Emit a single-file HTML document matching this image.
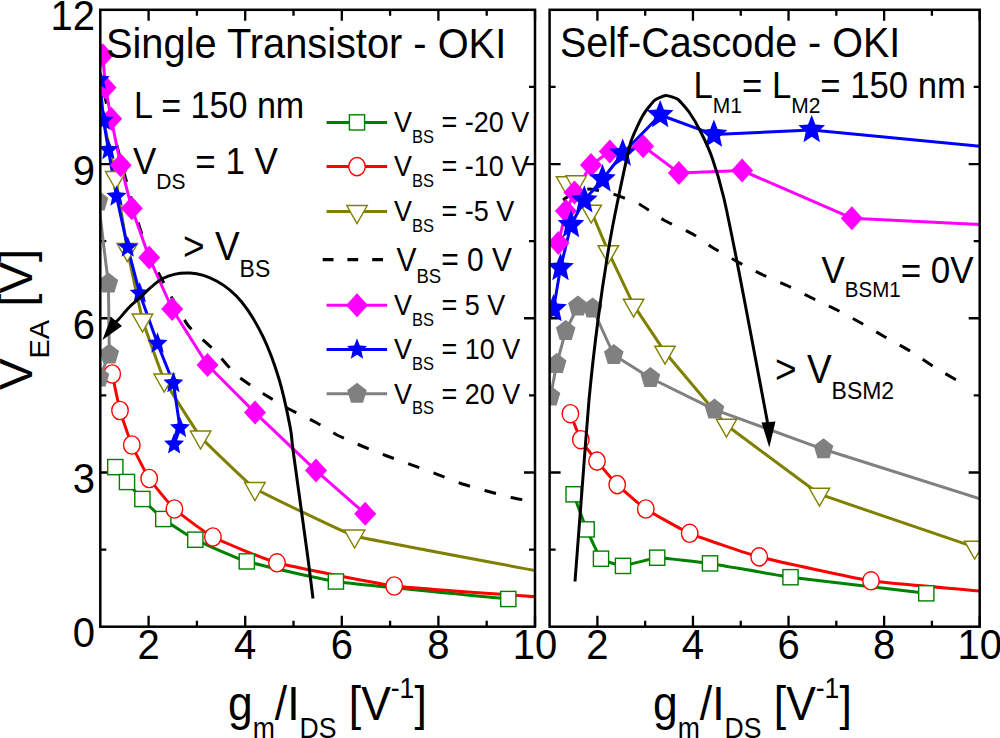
<!DOCTYPE html><html><head><meta charset="utf-8"><style>html,body{margin:0;padding:0;background:#fff;width:1000px;height:738px;overflow:hidden}svg{display:block}</style></head><body><svg width="1000" height="738" viewBox="0 0 1000 738" font-family='"Liberation Sans", sans-serif'>
<rect width="1000" height="738" fill="#fff"/>
<defs><clipPath id="cl"><rect x="100.3" y="9.8" width="434.7" height="616.9"/></clipPath><clipPath id="cr"><rect x="549.6" y="9.8" width="430.1" height="616.9"/></clipPath></defs>
<path d="M148.6,626.7v-11M148.6,9.8v11M196.9,626.7v-6M196.9,9.8v6M245.2,626.7v-11M245.2,9.8v11M293.5,626.7v-6M293.5,9.8v6M341.8,626.7v-11M341.8,9.8v11M390.1,626.7v-6M390.1,9.8v6M438.4,626.7v-11M438.4,9.8v11M486.7,626.7v-6M486.7,9.8v6M535,626.7v-11M535,9.8v11M100.3,549.59h6M535.0,549.59h-6M100.3,472.48h11M535.0,472.48h-11M100.3,395.36h6M535.0,395.36h-6M100.3,318.25h11M535.0,318.25h-11M100.3,241.14h6M535.0,241.14h-6M100.3,164.03h11M535.0,164.03h-11M100.3,86.91h6M535.0,86.91h-6" stroke="#000" stroke-width="2.3" fill="none"/>
<path d="M597.39,626.7v-11M597.39,9.8v11M645.18,626.7v-6M645.18,9.8v6M692.97,626.7v-11M692.97,9.8v11M740.76,626.7v-6M740.76,9.8v6M788.54,626.7v-11M788.54,9.8v11M836.33,626.7v-6M836.33,9.8v6M884.12,626.7v-11M884.12,9.8v11M931.91,626.7v-6M931.91,9.8v6M979.7,626.7v-11M979.7,9.8v11M549.6,549.59h6M979.7,549.59h-6M549.6,472.48h11M979.7,472.48h-11M549.6,395.36h6M979.7,395.36h-6M549.6,318.25h11M979.7,318.25h-11M549.6,241.14h6M979.7,241.14h-6M549.6,164.03h11M979.7,164.03h-11M549.6,86.91h6M979.7,86.91h-6" stroke="#000" stroke-width="2.3" fill="none"/>
<g clip-path="url(#cl)">
<path d="M115.3,467.1 C116.08,468.09 125.19,479.87 127,482 C128.81,484.13 139.98,496.53 142.4,499 C144.82,501.47 159.77,516.29 163.3,519 C166.83,521.71 189.73,536.87 195.3,539.7 C200.87,542.53 237.43,558.61 246.8,561.4 C256.17,564.19 318.47,578.99 335.9,581.5 C353.33,584.01 496.81,597.83 508.3,599" fill="none" stroke="#008000" stroke-width="3" stroke-linejoin="round"/>
<path d="M112.2,374 C112.72,376.43 118.69,405.77 120,410.5 C121.31,415.23 129.85,440.47 131.8,445 C133.75,449.53 146.36,474.23 149.2,478.5 C152.04,482.77 170.15,505.1 174.4,509 C178.65,512.9 206.06,533.41 212.9,537 C219.74,540.59 264.91,559.53 277,562.8 C289.09,566.07 376.93,583.74 394.2,586 C411.47,588.26 526.55,595.99 536,596.7" fill="none" stroke="#ff0000" stroke-width="3" stroke-linejoin="round"/>
<path d="M103,118 C103.42,119.98 114.89,173.12 115.7,177.5 C116.51,181.88 126.41,244.75 127.3,249.5 C128.19,254.25 141.27,315.65 142.5,320 C143.73,324.35 162.26,376.1 164.2,380 C166.14,383.9 197.58,433.38 200.6,437 C203.62,440.62 249.77,485.2 254.9,488.5 C260.03,491.8 345.23,533.26 354.6,536 C363.97,538.74 529.95,569.54 536,570.7" fill="none" stroke="#808000" stroke-width="3" stroke-linejoin="round"/>
<path d="M104,92 C104.5,94.33 108.92,115.5 110,120 C111.08,124.5 115.67,141 117,146 C118.33,151 124.31,173.83 126,180 C127.69,186.17 135.63,214.5 137.3,220 C138.97,225.5 144.28,241.67 146,246 C147.72,250.33 155.83,267.67 158,272 C160.17,276.33 169.46,293.5 172,298 C174.54,302.5 184.96,321.62 188.5,326 C192.04,330.38 210.54,346.44 214.5,350.5 C218.46,354.56 231.96,371.11 236,374.7 C240.04,378.29 258.5,390.7 263,393.6 C267.5,396.5 285.58,407.09 290,409.5 C294.42,411.91 312,420.33 316,422.5 C320,424.67 334.08,433.5 338,435.5 C341.92,437.5 358.92,444.79 363,446.5 C367.08,448.21 382.96,454.48 387,456 C391.04,457.52 407.42,463.32 411.5,464.8 C415.58,466.28 431.88,472.24 436,473.8 C440.12,475.36 456.92,482.11 461,483.5 C465.08,484.89 480.83,489.33 485,490.5 C489.17,491.67 506.75,496.54 511,497.5 C515.25,498.46 533.92,501.62 536,502" fill="none" stroke="#000" stroke-width="3" stroke-linejoin="round" stroke-dasharray="12,15"/>
<path d="M98.5,201.5 L104,248 L108.4,283.5 L109.3,354.5 L99.5,377.5" fill="none" stroke="#808080" stroke-width="3" stroke-linejoin="round"/>
<path d="M102.7,55.2 L105.5,87.4 L111.2,118.7 L120.7,165.2 L131.8,208.3 L149.2,257.6 L172.2,309 L207.5,365 L255,412.6 L316,470.6 L365.2,513.8" fill="none" stroke="#ff00ff" stroke-width="3" stroke-linejoin="round"/>
<path d="M99.8,79.8 L103.6,120.6 L108.4,150 L116.5,196.5 L127.7,247.5 L139.7,293.4 L157.5,343.6 L173.4,383.2 L180,428 L174.1,444.3" fill="none" stroke="#0000ff" stroke-width="3" stroke-linejoin="round"/>
<g fill="#fff" stroke="#008000" stroke-width="1.4"><rect x="107.7" y="459.5" width="15.2" height="15.2"/><rect x="119.4" y="474.4" width="15.2" height="15.2"/><rect x="134.8" y="491.4" width="15.2" height="15.2"/><rect x="155.7" y="511.4" width="15.2" height="15.2"/><rect x="187.7" y="532.1" width="15.2" height="15.2"/><rect x="239.2" y="553.8" width="15.2" height="15.2"/><rect x="328.3" y="573.9" width="15.2" height="15.2"/><rect x="500.7" y="591.4" width="15.2" height="15.2"/></g>
<g fill="#fff" stroke="#ff0000" stroke-width="1.4"><ellipse cx="112.2" cy="374" rx="8.25" ry="9.08"/><ellipse cx="120" cy="410.5" rx="8.25" ry="9.08"/><ellipse cx="131.8" cy="445" rx="8.25" ry="9.08"/><ellipse cx="149.2" cy="478.5" rx="8.25" ry="9.08"/><ellipse cx="174.4" cy="509" rx="8.25" ry="9.08"/><ellipse cx="212.9" cy="537" rx="8.25" ry="9.08"/><ellipse cx="277" cy="562.8" rx="8.25" ry="9.08"/><ellipse cx="394.2" cy="586" rx="8.25" ry="9.08"/></g>
<g fill="#fff" stroke="#808000" stroke-width="1.4"><polygon points="105.45,171.5 125.95,171.5 115.7,189.5"/><polygon points="117.05,243.5 137.55,243.5 127.3,261.5"/><polygon points="132.25,314 152.75,314 142.5,332"/><polygon points="153.95,374 174.45,374 164.2,392"/><polygon points="190.35,431 210.85,431 200.6,449"/><polygon points="244.65,482.5 265.15,482.5 254.9,500.5"/><polygon points="344.35,530 364.85,530 354.6,548"/></g>
<g fill="#808080"><polygon points="98.5,190.38 108.3,198.06 104.55,210.5 92.45,210.5 88.7,198.06"/><polygon points="108.4,272.38 118.2,280.06 114.45,292.5 102.35,292.5 98.6,280.06"/><polygon points="109.3,343.38 119.1,351.06 115.35,363.5 103.25,363.5 99.5,351.06"/><polygon points="99.5,366.38 109.3,374.06 105.55,386.5 93.45,386.5 89.7,374.06"/></g>
<g fill="#ff00ff"><polygon points="102.7,43.21 113.7,55.2 102.7,67.19 91.7,55.2"/><polygon points="105.5,75.41 116.5,87.4 105.5,99.39 94.5,87.4"/><polygon points="111.2,106.71 122.2,118.7 111.2,130.69 100.2,118.7"/><polygon points="120.7,153.21 131.7,165.2 120.7,177.19 109.7,165.2"/><polygon points="131.8,196.31 142.8,208.3 131.8,220.29 120.8,208.3"/><polygon points="149.2,245.61 160.2,257.6 149.2,269.59 138.2,257.6"/><polygon points="172.2,297.01 183.2,309 172.2,320.99 161.2,309"/><polygon points="207.5,353.01 218.5,365 207.5,376.99 196.5,365"/><polygon points="255,400.61 266,412.6 255,424.59 244,412.6"/><polygon points="316,458.61 327,470.6 316,482.59 305,470.6"/><polygon points="365.2,501.81 376.2,513.8 365.2,525.79 354.2,513.8"/></g>
<g fill="#0000ff"><polygon points="99.8,68.46 102.58,75.67 109.79,76.3 104.29,81.38 105.97,88.97 99.8,84.9 93.63,88.97 95.31,81.38 89.81,76.3 97.02,75.67"/><polygon points="103.6,109.26 106.38,116.47 113.59,117.1 108.09,122.18 109.77,129.77 103.6,125.7 97.43,129.77 99.11,122.18 93.61,117.1 100.82,116.47"/><polygon points="108.4,138.66 111.18,145.87 118.39,146.5 112.89,151.58 114.57,159.17 108.4,155.1 102.23,159.17 103.91,151.58 98.41,146.5 105.62,145.87"/><polygon points="116.5,185.16 119.28,192.37 126.49,193 120.99,198.08 122.67,205.67 116.5,201.6 110.33,205.67 112.01,198.08 106.51,193 113.72,192.37"/><polygon points="127.7,236.16 130.48,243.37 137.69,244 132.19,249.08 133.87,256.67 127.7,252.6 121.53,256.67 123.21,249.08 117.71,244 124.92,243.37"/><polygon points="139.7,282.06 142.48,289.27 149.69,289.9 144.19,294.98 145.87,302.57 139.7,298.5 133.53,302.57 135.21,294.98 129.71,289.9 136.92,289.27"/><polygon points="157.5,332.26 160.28,339.47 167.49,340.1 161.99,345.18 163.67,352.77 157.5,348.7 151.33,352.77 153.01,345.18 147.51,340.1 154.72,339.47"/><polygon points="173.4,371.86 176.18,379.07 183.39,379.7 177.89,384.78 179.57,392.37 173.4,388.3 167.23,392.37 168.91,384.78 163.41,379.7 170.62,379.07"/><polygon points="180,416.66 182.78,423.87 189.99,424.5 184.49,429.58 186.17,437.17 180,433.1 173.83,437.17 175.51,429.58 170.01,424.5 177.22,423.87"/><polygon points="174.1,432.96 176.88,440.17 184.09,440.8 178.59,445.88 180.27,453.47 174.1,449.4 167.93,453.47 169.61,445.88 164.11,440.8 171.32,440.17"/></g>
<path d="M112,325 C113,324.17 115.25,322.83 118,320 C120.75,317.17 125.28,311.33 128.5,308 C131.72,304.67 131.6,304.92 137.3,300 C143,295.08 153.93,283 162.7,278.5 C171.47,274 180.85,272.55 189.9,273 C198.95,273.45 208.43,276.45 217,281.2 C225.57,285.95 233.63,292.25 241.3,301.5 C248.97,310.75 256.67,323.62 263,336.7 C269.33,349.78 274.8,365.08 279.3,380 C283.8,394.92 287.72,414.53 290,426.2 C292.28,437.87 291.17,436.42 293,450 C294.83,463.58 298.55,489.95 301,507.7 C303.45,525.45 305.7,541.37 307.7,556.5 C309.7,571.63 312.12,591.5 313,598.5" fill="none" stroke="#000" stroke-width="3"/>
<polygon points="102.4,340 111.2,317 122,326" fill="#000"/>
</g>
<g clip-path="url(#cr)">
<path d="M573.6,494.3 C574.25,496.06 585.23,526.18 586.6,529.4 C587.97,532.62 599.18,556.88 601,558.7 C602.82,560.53 620.19,565.95 623,565.9 C625.81,565.85 652.85,557.83 657.2,557.7 C661.55,557.58 703.34,562.42 710,563.4 C716.66,564.38 779.69,575.71 790.5,577.2 C801.31,578.7 919.51,592.5 926.3,593.3" fill="none" stroke="#008000" stroke-width="3" stroke-linejoin="round"/>
<path d="M570.4,413.7 C571.09,415.43 579.03,436.54 580.8,439.7 C582.57,442.86 594.57,458.11 597,461.1 C599.43,464.09 613.95,481.41 617.2,484.6 C620.45,487.79 640.97,505.75 645.8,509 C650.63,512.25 682.14,530.11 689.7,533.3 C697.26,536.49 747.11,553.73 759.2,556.9 C771.29,560.07 856.28,578.53 871,580.8 C885.72,583.07 972.73,590.32 980,591" fill="none" stroke="#ff0000" stroke-width="3" stroke-linejoin="round"/>
<path d="M566.6,182.8 L576.2,181.8 L591.2,211.2 L608.3,251.7 L633.6,305.2 L665,352.2 L726.5,425.2 L819.5,494.2 L974.7,547.2 L980,547" fill="none" stroke="#808000" stroke-width="3" stroke-linejoin="round"/>
<path d="M563,200 C564,199.33 572.75,192.92 575,192 C577.25,191.08 586.83,188.83 590,189 C593.17,189.17 608.92,192.75 613,194 C617.08,195.25 634.77,201.83 639,204 C643.23,206.17 659.16,217.46 663.7,220 C668.24,222.54 689.56,232.29 693.5,234.5 C697.44,236.71 707.38,244.25 711,246.5 C714.62,248.75 732.67,259.12 737,261.5 C741.33,263.88 758.83,273 763,275 C767.17,277 782.83,283.54 787,285.5 C791.17,287.46 808.83,296.46 813,298.5 C817.17,300.54 833,307.96 837,310 C841,312.04 857,320.75 861,323 C865,325.25 880.92,334.67 885,337 C889.08,339.33 905.83,348.46 910,351 C914.17,353.54 930.92,364.96 935,367.5 C939.08,370.04 956.5,380.12 959,381.5 C961.5,382.88 964.5,383.79 965,384" fill="none" stroke="#000" stroke-width="3" stroke-linejoin="round" stroke-dasharray="12,15"/>
<path d="M550.5,396.5 L556.7,364 L565.7,331 L577.9,306.5 L592.6,308.5 L613.8,355 L650.4,378 L714.5,409.6 L823.5,449.3 L980,498.9" fill="none" stroke="#808080" stroke-width="3" stroke-linejoin="round"/>
<path d="M558.4,243 L565.9,211 L574.5,192.5 L591,165 L609.8,151.5 L643.1,146.2 L678.9,172.9 L742.1,170.5 L851.8,218.2 L980,224.5" fill="none" stroke="#ff00ff" stroke-width="3" stroke-linejoin="round"/>
<path d="M553.5,309 L560.5,268 L571,225 L584.3,200.3 L602.5,179.2 L622.7,153.5 L660.2,115 L713.9,134.6 L811.7,130 L980,146.3" fill="none" stroke="#0000ff" stroke-width="3" stroke-linejoin="round"/>
<g fill="#fff" stroke="#008000" stroke-width="1.4"><rect x="566" y="486.7" width="15.2" height="15.2"/><rect x="579" y="521.8" width="15.2" height="15.2"/><rect x="593.4" y="551.1" width="15.2" height="15.2"/><rect x="615.4" y="558.3" width="15.2" height="15.2"/><rect x="649.6" y="550.1" width="15.2" height="15.2"/><rect x="702.4" y="555.8" width="15.2" height="15.2"/><rect x="782.9" y="569.6" width="15.2" height="15.2"/><rect x="918.7" y="585.7" width="15.2" height="15.2"/></g>
<g fill="#fff" stroke="#ff0000" stroke-width="1.4"><ellipse cx="570.4" cy="413.7" rx="8.25" ry="9.08"/><ellipse cx="580.8" cy="439.7" rx="8.25" ry="9.08"/><ellipse cx="597" cy="461.1" rx="8.25" ry="9.08"/><ellipse cx="617.2" cy="484.6" rx="8.25" ry="9.08"/><ellipse cx="645.8" cy="509" rx="8.25" ry="9.08"/><ellipse cx="689.7" cy="533.3" rx="8.25" ry="9.08"/><ellipse cx="759.2" cy="556.9" rx="8.25" ry="9.08"/><ellipse cx="871" cy="580.8" rx="8.25" ry="9.08"/></g>
<g fill="#fff" stroke="#808000" stroke-width="1.4"><polygon points="556.35,176.8 576.85,176.8 566.6,194.8"/><polygon points="565.95,175.8 586.45,175.8 576.2,193.8"/><polygon points="580.95,205.2 601.45,205.2 591.2,223.2"/><polygon points="598.05,245.7 618.55,245.7 608.3,263.7"/><polygon points="623.35,299.2 643.85,299.2 633.6,317.2"/><polygon points="654.75,346.2 675.25,346.2 665,364.2"/><polygon points="716.25,419.2 736.75,419.2 726.5,437.2"/><polygon points="809.25,488.2 829.75,488.2 819.5,506.2"/><polygon points="964.45,541.2 984.95,541.2 974.7,559.2"/></g>
<g fill="#808080"><polygon points="550.5,385.38 560.3,393.06 556.55,405.5 544.45,405.5 540.7,393.06"/><polygon points="556.7,352.88 566.5,360.56 562.75,373 550.65,373 546.9,360.56"/><polygon points="565.7,319.88 575.5,327.56 571.75,340 559.65,340 555.9,327.56"/><polygon points="577.9,295.38 587.7,303.06 583.95,315.5 571.85,315.5 568.1,303.06"/><polygon points="592.6,297.38 602.4,305.06 598.65,317.5 586.55,317.5 582.8,305.06"/><polygon points="613.8,343.88 623.6,351.56 619.85,364 607.75,364 604,351.56"/><polygon points="650.4,366.88 660.2,374.56 656.45,387 644.35,387 640.6,374.56"/><polygon points="714.5,398.48 724.3,406.16 720.55,418.6 708.45,418.6 704.7,406.16"/><polygon points="823.5,438.18 833.3,445.86 829.55,458.3 817.45,458.3 813.7,445.86"/></g>
<g fill="#ff00ff"><polygon points="558.4,231.01 569.4,243 558.4,254.99 547.4,243"/><polygon points="565.9,199.01 576.9,211 565.9,222.99 554.9,211"/><polygon points="574.5,180.51 585.5,192.5 574.5,204.49 563.5,192.5"/><polygon points="591,153.01 602,165 591,176.99 580,165"/><polygon points="609.8,139.51 620.8,151.5 609.8,163.49 598.8,151.5"/><polygon points="643.1,134.21 654.1,146.2 643.1,158.19 632.1,146.2"/><polygon points="678.9,160.91 689.9,172.9 678.9,184.89 667.9,172.9"/><polygon points="742.1,158.51 753.1,170.5 742.1,182.49 731.1,170.5"/><polygon points="851.8,206.21 862.8,218.2 851.8,230.19 840.8,218.2"/></g>
<g fill="#0000ff"><polygon points="553.5,293.88 557.2,303.5 566.81,304.33 559.49,311.1 561.73,321.23 553.5,315.8 545.27,321.23 547.51,311.1 540.19,304.33 549.8,303.5"/><polygon points="560.5,252.88 564.2,262.5 573.81,263.33 566.49,270.1 568.73,280.23 560.5,274.8 552.27,280.23 554.51,270.1 547.19,263.33 556.8,262.5"/><polygon points="571,209.88 574.7,219.5 584.31,220.33 576.99,227.1 579.23,237.23 571,231.8 562.77,237.23 565.01,227.1 557.69,220.33 567.3,219.5"/><polygon points="584.3,185.18 588,194.8 597.61,195.63 590.29,202.4 592.53,212.53 584.3,207.1 576.07,212.53 578.31,202.4 570.99,195.63 580.6,194.8"/><polygon points="602.5,164.08 606.2,173.7 615.81,174.53 608.49,181.3 610.73,191.43 602.5,186 594.27,191.43 596.51,181.3 589.19,174.53 598.8,173.7"/><polygon points="622.7,138.38 626.4,148 636.01,148.83 628.69,155.6 630.93,165.73 622.7,160.3 614.47,165.73 616.71,155.6 609.39,148.83 619,148"/><polygon points="660.2,99.88 663.9,109.5 673.51,110.33 666.19,117.1 668.43,127.23 660.2,121.8 651.97,127.23 654.21,117.1 646.89,110.33 656.5,109.5"/><polygon points="713.9,119.48 717.6,129.1 727.21,129.93 719.89,136.7 722.13,146.83 713.9,141.4 705.67,146.83 707.91,136.7 700.59,129.93 710.2,129.1"/><polygon points="811.7,114.88 815.4,124.5 825.01,125.33 817.69,132.1 819.93,142.23 811.7,136.8 803.47,142.23 805.71,132.1 798.39,125.33 808,124.5"/></g>
<path d="M575,581.5 C575.58,573.88 580.83,505.12 582,490 C583.17,474.88 587.67,414.17 589,400 C590.33,385.83 596.38,332.5 598,320 C599.62,307.5 606.74,260 608.4,250 C610.06,240 616.02,209.02 617.9,200 C619.77,190.98 628.8,148.88 630.9,141.8 C633,134.72 641.13,118.46 643.1,115 C645.07,111.54 652.6,101.93 654.5,100.3 C656.4,98.67 663.94,95.47 665.9,95.4 C667.86,95.33 676.04,98.08 678,99.5 C679.96,100.92 687.5,109.79 689.4,112.5 C691.3,115.21 698.9,128.21 700.8,132 C702.7,135.79 710.3,152.58 712.2,158 C714.1,163.42 721.53,188.37 723.6,197 C725.67,205.63 734.47,248.79 737,261.6 C739.53,274.41 751.42,337.08 754,350.7 C756.58,364.32 766.83,418.81 768,425" fill="none" stroke="#000" stroke-width="3"/>
<polygon points="769.3,447.5 761.5,422.5 775.5,421.5" fill="#000"/>
</g>
<rect x="100.3" y="9.8" width="434.7" height="616.9" fill="none" stroke="#000" stroke-width="2.5"/>
<rect x="549.6" y="9.8" width="430.1" height="616.9" fill="none" stroke="#000" stroke-width="2.5"/>
<line x1="326.6" y1="122.4" x2="387.1" y2="122.4" stroke="#008000" stroke-width="3"/>
<g fill="#fff" stroke="#008000" stroke-width="1.4"><rect x="349.4" y="114.8" width="15.2" height="15.2"/></g>
<line x1="326.6" y1="166.6" x2="387.1" y2="166.6" stroke="#ff0000" stroke-width="3"/>
<g fill="#fff" stroke="#ff0000" stroke-width="1.4"><ellipse cx="357" cy="166.6" rx="8.25" ry="9.08"/></g>
<line x1="326.6" y1="211.5" x2="387.1" y2="211.5" stroke="#808000" stroke-width="3"/>
<g fill="#fff" stroke="#808000" stroke-width="1.4"><polygon points="346.75,205.5 367.25,205.5 357,223.5"/></g>
<path d="M322.7,259.6h10.8M347.4,259.6h10.8M372.2,259.6h10.8" stroke="#000" stroke-width="3.2"/>
<line x1="326.6" y1="305.3" x2="387.1" y2="305.3" stroke="#ff00ff" stroke-width="3"/>
<g fill="#ff00ff"><polygon points="357,293.31 368,305.3 357,317.29 346,305.3"/></g>
<line x1="326.6" y1="349.6" x2="387.1" y2="349.6" stroke="#0000ff" stroke-width="3"/>
<g fill="#0000ff"><polygon points="357,338.26 359.78,345.47 366.99,346.1 361.49,351.18 363.17,358.77 357,354.7 350.83,358.77 352.51,351.18 347.01,346.1 354.22,345.47"/></g>
<line x1="326.6" y1="393.8" x2="387.1" y2="393.8" stroke="#808080" stroke-width="3"/>
<g fill="#808080"><polygon points="357,382.68 366.8,390.36 363.05,402.8 350.95,402.8 347.2,390.36"/></g>
<text transform="translate(95,647.2) scale(1.0,1.08)" font-size="40" text-anchor="end">0</text>
<text transform="translate(95,492.98) scale(1.0,1.08)" font-size="40" text-anchor="end">3</text>
<text transform="translate(95,338.75) scale(1.0,1.08)" font-size="40" text-anchor="end">6</text>
<text transform="translate(95,184.53) scale(1.0,1.08)" font-size="40" text-anchor="end">9</text>
<text transform="translate(95,30.3) scale(1.0,1.08)" font-size="40" text-anchor="end">12</text>
<text transform="translate(148.6,659) scale(1.0,1.08)" font-size="40" text-anchor="middle">2</text>
<text transform="translate(245.2,659) scale(1.0,1.08)" font-size="40" text-anchor="middle">4</text>
<text transform="translate(341.8,659) scale(1.0,1.08)" font-size="40" text-anchor="middle">6</text>
<text transform="translate(438.4,659) scale(1.0,1.08)" font-size="40" text-anchor="middle">8</text>
<text transform="translate(535,659) scale(1.0,1.08)" font-size="40" text-anchor="middle">10</text>
<text transform="translate(597.39,659) scale(1.0,1.08)" font-size="40" text-anchor="middle">2</text>
<text transform="translate(692.97,659) scale(1.0,1.08)" font-size="40" text-anchor="middle">4</text>
<text transform="translate(788.54,659) scale(1.0,1.08)" font-size="40" text-anchor="middle">6</text>
<text transform="translate(884.12,659) scale(1.0,1.08)" font-size="40" text-anchor="middle">8</text>
<text transform="translate(979.7,659) scale(1.0,1.08)" font-size="40" text-anchor="middle">10</text>
<text transform="translate(106,57.5) scale(1.0,1.08)" font-size="39.8" text-anchor="start">Single Transistor - OKI</text>
<text transform="translate(560,57) scale(1.0,1.08)" font-size="39.5" text-anchor="start">Self-Cascode - OKI</text>
<text transform="translate(134,117.5) scale(1.0,1.08)" font-size="34.1" text-anchor="start">L = 150 nm</text>
<text transform="translate(133,173.5) scale(1.0,1.08)"><tspan font-size="35" dy="0">V</tspan><tspan font-size="21" dy="14">DS</tspan><tspan font-size="35" dy="-14"> = 1 V</tspan></text>
<text transform="translate(183,260) scale(1.0,1.08)"><tspan font-size="37" dy="0">&gt; V</tspan><tspan font-size="23" dy="16">BS</tspan></text>
<text transform="translate(394,132.2) scale(1.0,1.08)"><tspan font-size="27" dy="0">V</tspan><tspan font-size="16.5" dy="10">BS</tspan><tspan font-size="27" dy="-10"> = -20 V</tspan></text>
<text transform="translate(394,176.4) scale(1.0,1.08)"><tspan font-size="27" dy="0">V</tspan><tspan font-size="16.5" dy="10">BS</tspan><tspan font-size="27" dy="-10"> = -10 V</tspan></text>
<text transform="translate(394,221.3) scale(1.0,1.08)"><tspan font-size="27" dy="0">V</tspan><tspan font-size="16.5" dy="10">BS</tspan><tspan font-size="27" dy="-10"> = -5 V</tspan></text>
<text transform="translate(396.5,271) scale(1.0,1.08)"><tspan font-size="30" dy="0">V</tspan><tspan font-size="18.5" dy="11">BS</tspan><tspan font-size="30" dy="-11">= 0 V</tspan></text>
<text transform="translate(394,315.1) scale(1.0,1.08)"><tspan font-size="27" dy="0">V</tspan><tspan font-size="16.5" dy="10">BS</tspan><tspan font-size="27" dy="-10"> = 5 V</tspan></text>
<text transform="translate(394,359.4) scale(1.0,1.08)"><tspan font-size="27" dy="0">V</tspan><tspan font-size="16.5" dy="10">BS</tspan><tspan font-size="27" dy="-10"> = 10 V</tspan></text>
<text transform="translate(394,403.6) scale(1.0,1.08)"><tspan font-size="27" dy="0">V</tspan><tspan font-size="16.5" dy="10">BS</tspan><tspan font-size="27" dy="-10"> = 20 V</tspan></text>
<text transform="translate(693.5,98) scale(1.0,1.08)"><tspan font-size="34.7" dy="0">L</tspan><tspan font-size="21" dy="14">M1</tspan><tspan font-size="34.7" dy="-14">= L</tspan><tspan font-size="21" dy="14">M2</tspan><tspan font-size="34.7" dy="-14">= 150 nm</tspan></text>
<text transform="translate(821.5,283) scale(1.0,1.08)"><tspan font-size="35" dy="0">V</tspan><tspan font-size="20.5" dy="13">BSM1</tspan><tspan font-size="35" dy="-13">= 0V</tspan></text>
<text transform="translate(775,383) scale(1.0,1.08)"><tspan font-size="37" dy="0">&gt; V</tspan><tspan font-size="23" dy="15">BSM2</tspan></text>
<text transform="translate(228,719.5) scale(1.0,1.08)"><tspan font-size="44.4" dy="0">g</tspan><tspan font-size="26.6" dy="17">m</tspan><tspan font-size="44.4" dy="-17">/I</tspan><tspan font-size="26.6" dy="17">DS</tspan><tspan font-size="44.4" dy="-17"> [V</tspan><tspan font-size="26.6" dy="-20">-1</tspan><tspan font-size="44.4" dy="20">]</tspan></text>
<text transform="translate(653,719.5) scale(1.0,1.08)"><tspan font-size="44.4" dy="0">g</tspan><tspan font-size="26.6" dy="17">m</tspan><tspan font-size="44.4" dy="-17">/I</tspan><tspan font-size="26.6" dy="17">DS</tspan><tspan font-size="44.4" dy="-17"> [V</tspan><tspan font-size="26.6" dy="-20">-1</tspan><tspan font-size="44.4" dy="20">]</tspan></text>
<text transform="translate(32,390) rotate(-90) scale(1.03,1)"><tspan font-size="46">V</tspan><tspan font-size="28" dy="17">EA</tspan><tspan font-size="46" dy="-17"> [V]</tspan></text>
</svg></body></html>
